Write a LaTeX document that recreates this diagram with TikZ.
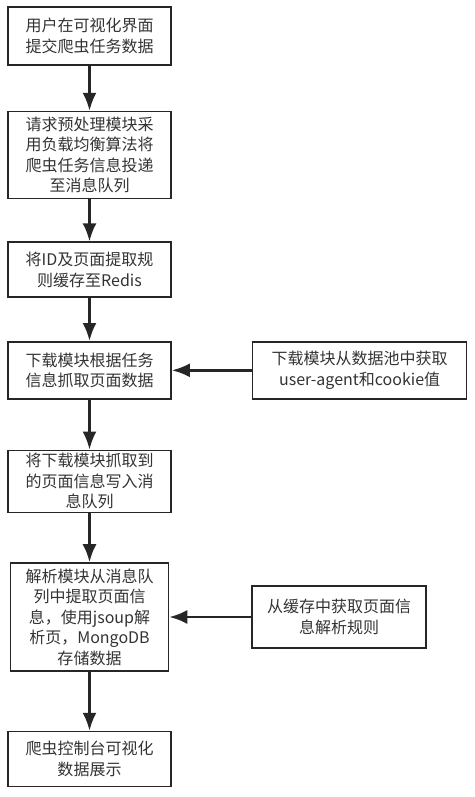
\documentclass[tikz,border=0pt]{standalone}
\usepackage{fontspec}
\newfontfamily\cjk{Noto Sans CJK SC}
\usetikzlibrary{positioning,arrows.meta}

\begin{document}
\begin{tikzpicture}[auto,
    box/.style={draw=black!85, line width=1.6pt, rectangle, minimum width=163pt, align=center, inner sep=2pt, text=black!80, font=\cjk\fontsize{16}{20.5}\selectfont},
    flow/.style={draw=black!85, line width=2.6pt, -{Latex[length=18pt,width=14pt]}}]
    \useasboundingbox (0,0) rectangle (474pt,-797pt);

    % Main column
    \node [box, minimum height=58pt] (submit) at (89.5pt,-36pt) {用户在可视化界面\\提交爬虫任务数据};
    \node [box, minimum height=87pt, below=45pt of submit] (dispatch) {请求预处理模块采\\用负载均衡算法将\\爬虫任务信息投递\\至消息队列};
    \node [box, minimum height=55pt, below=42pt of dispatch] (cache) {将ID及页面提取规\\则缓存至Redis};
    \node [box, minimum height=57pt, below=43pt of cache] (fetch) {下载模块根据任务\\信息抓取页面数据};
    \node [box, minimum height=62pt, below=50pt of fetch] (enqueue) {将下载模块抓取到\\的页面信息写入消\\息队列};
    \node [box, minimum height=108pt, minimum width=158pt, below=49pt of enqueue] (parse) {解析模块从消息队\\列中提取页面信\\息，使用jsoup解\\析页，MongoDB\\存储数据};
    \node [box, minimum height=55pt, below=59pt of parse] (show) {爬虫控制台可视化\\数据展示};

    % Side inputs
    \node [box, minimum height=57pt, minimum width=214pt, right=80pt of fetch] (agent) {下载模块从数据池中获取\\user-agent和cookie值};
    \node [box, minimum height=62pt, minimum width=174pt, right=82pt of parse] (rules) {从缓存中获取页面信\\息解析规则};

    % Connectors
    \draw [flow] (submit) -- (dispatch);
    \draw [flow] (dispatch) -- (cache);
    \draw [flow] (cache) -- (fetch);
    \draw [flow] (fetch) -- (enqueue);
    \draw [flow] (enqueue) -- (parse);
    \draw [flow] (parse) -- (show);
    \draw [flow] (agent) -- (fetch);
    \draw [flow] (rules) -- (parse);
\end{tikzpicture}
\end{document}
